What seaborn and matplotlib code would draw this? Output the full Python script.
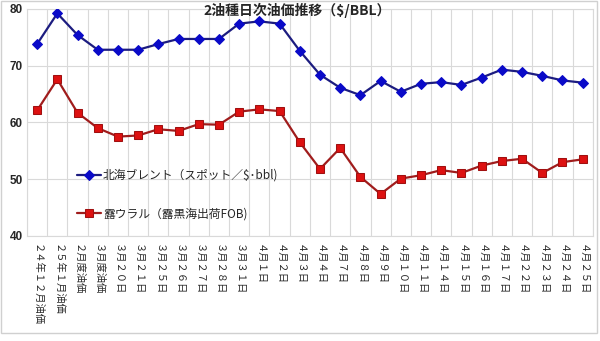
import numpy as np
import pandas as pd
import matplotlib
matplotlib.use("Agg")
import matplotlib.pyplot as plt
import seaborn as sns
from matplotlib.patches import Rectangle

dates = ["２４年１２月油価", "２５年１月油価", "２月度油価", "３月度油価",
         "３月２０日", "３月２１日", "３月２５日", "３月２６日", "３月２７日", "３月２８日",
         "３月３１日", "４月１日", "４月２日", "４月３日", "４月４日", "４月７日",
         "４月８日", "４月９日", "４月１０日", "４月１１日", "４月１４日", "４月１５日",
         "４月１６日", "４月１７日", "４月２２日", "４月２３日", "４月２４日", "４月２５日"]
brent = [73.8, 79.2, 75.4, 72.8, 72.8, 72.8, 73.8, 74.7, 74.7, 74.7,
         77.4, 77.8, 77.4, 72.6, 68.4, 66.1, 64.8, 67.3, 65.4, 66.8,
         67.1, 66.6, 67.9, 69.3, 68.9, 68.2, 67.4, 67.0]
urals = [62.1, 67.6, 61.7, 59.0, 57.5, 57.7, 58.8, 58.5, 59.7, 59.6,
         61.9, 62.3, 62.0, 56.5, 51.8, 55.5, 50.4, 47.4, 50.1, 50.7,
         51.6, 51.1, 52.4, 53.2, 53.6, 51.1, 53.0, 53.5]
series_names = ["北海ブレント（スポット／$･bbl)", "露ウラル（露黒海出荷FOB)"]
title = "2油種日次油価推移（$/BBL）"
yticks = [40, 50, 60, 70, 80]

sns.set_theme(style="white")
plt.rcParams['font.family'] = ['Noto Sans CJK JP', 'DejaVu Sans']

pos = np.arange(len(dates))
df = pd.DataFrame({"pos": pos, "brent": brent, "urals": urals})

fig = plt.figure(figsize=(6.0, 3.41), dpi=100)
ax = fig.add_axes([0.045, 0.308, 0.943, 0.666])

sns.lineplot(data=df, x="pos", y="brent", ax=ax, color="#1c1c80", lw=1.6,
             marker="D", markersize=5, markerfacecolor="#0a0ac8",
             markeredgecolor="#0a0ac8", label=series_names[0], zorder=3)
sns.lineplot(data=df, x="pos", y="urals", ax=ax, color="#a01c1c", lw=1.6,
             marker="s", markersize=5.5, markerfacecolor="#dd1111",
             markeredgecolor="#a01010", label=series_names[1], zorder=3)

ax.set_xlim(-0.5, len(dates) - 0.5)
ax.set_ylim(40, 80)
ax.set_yticks(yticks)
ax.set_yticklabels([str(v) for v in yticks], fontsize=8.5, fontweight="bold",
                   family=['Liberation Sans', 'DejaVu Sans'])
ax.set_xticks(pos)
ax.set_xticklabels(dates, rotation=270, fontsize=7.4, va="top", ha="center")
ax.set_xticks(np.arange(-0.5, len(dates), 1.0), minor=True)
ax.tick_params(axis="both", which="both", length=0, pad=3)
ax.tick_params(axis="x", which="major", pad=6)
ax.grid(axis="x", which="minor", color="#d9d9d9", lw=0.8)
ax.grid(axis="y", which="major", color="#d9d9d9", lw=0.8)
ax.set_xlabel("")
ax.set_ylabel("")
for s in ax.spines.values():
    s.set_color("#d9d9d9")
    s.set_linewidth(0.8)

ax.text(0.478, 1.025, title, transform=ax.transAxes, ha="center", va="top",
        fontsize=10, fontweight="bold", zorder=5)

leg = ax.legend(loc="upper left", bbox_to_anchor=(0.08, 0.316), frameon=False,
                fontsize=8.5, labelspacing=2.15, handlelength=2.0,
                handletextpad=0.2, borderaxespad=0)

fig.patches.append(Rectangle((0.002, 0.022), 0.993, 0.975, transform=fig.transFigure,
                             fill=False, edgecolor="#d0d0d0", lw=1.0))

fig.savefig("out.png", dpi=100)
